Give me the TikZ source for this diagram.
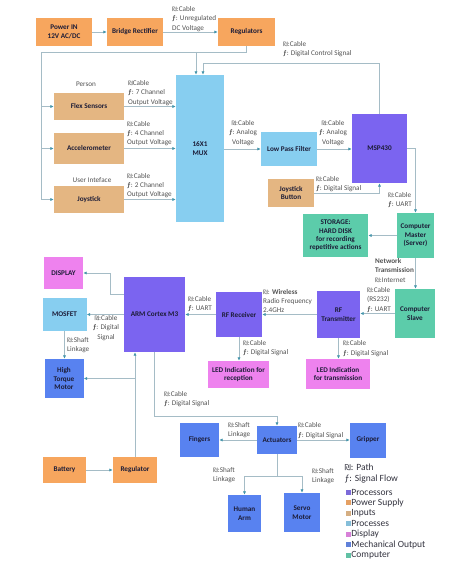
\documentclass[tikz,border=0pt]{standalone}
\usepackage{fontspec}
\setmainfont{Carlito}
\newfontfamily\pathfont{DejaVu Sans}
\usetikzlibrary{arrows.meta}

\definecolor{powerCol}{RGB}{247,166,94}
\definecolor{inputCol}{RGB}{228,182,130}
\definecolor{procCol}{RGB}{135,206,240}
\definecolor{cpuCol}{RGB}{123,100,240}
\definecolor{dispCol}{RGB}{238,130,238}
\definecolor{mechCol}{RGB}{88,130,240}
\definecolor{compCol}{RGB}{92,204,170}
\definecolor{lineCol}{RGB}{165,188,198}
\definecolor{tipCol}{RGB}{70,150,172}
\definecolor{boxText}{RGB}{28,28,55}
\definecolor{labelCol}{RGB}{82,82,82}
\definecolor{legCol}{RGB}{50,50,62}

\newcommand{\pth}{{\pathfont\fontsize{6}{9}\selectfont ₪}}
\newcommand{\flw}{\textbf{ƒ}}

\begin{document}
\begin{tikzpicture}[x=1pt,y=-1pt,
    blockNode/.style={inner sep=1pt, align=center, text=boxText, font=\bfseries\fontsize{7.2}{8.4}\selectfont},
    powerNode/.style={blockNode, fill=powerCol},
    inputNode/.style={blockNode, fill=inputCol},
    procNode/.style={blockNode, fill=procCol},
    cpuNode/.style={blockNode, fill=cpuCol},
    dispNode/.style={blockNode, fill=dispCol},
    mechNode/.style={blockNode, fill=mechCol},
    compNode/.style={blockNode, fill=compCol},
    pathLabel/.style={inner sep=0pt, anchor=west, align=left, text=labelCol, font=\fontsize{7.2}{9.3}\selectfont},
    pathLabelC/.style={pathLabel, anchor=center, align=center},
    flowLine/.style={draw=lineCol, line width=0.8pt, -{Latex[length=3.5pt,width=3.2pt,color=tipCol]}},
    legKey/.style={minimum size=5pt, inner sep=0pt},
    legText/.style={inner sep=0.5pt, text=legCol, font=\fontsize{9.5}{10.5}\selectfont},
  ]
    \useasboundingbox (0,0) rectangle (474,561);

    % power in
    \node[powerNode, minimum width=56, minimum height=28] (pwrIn) at (64,32) {Power IN\\12V AC/DC};
    \node[powerNode, minimum width=56, minimum height=28] (bridge) at (135,32) {Bridge Rectifier};
    \node[powerNode, minimum width=57, minimum height=28] (regs) at (246.5,32) {Regulators};

    % inputs
    \node[pathLabelC] (personTxt) at (86,84) {Person};
    \node[inputNode, minimum width=70, minimum height=27] (flex) at (89,106.5) {Flex Sensors};
    \node[inputNode, minimum width=70, minimum height=31] (accel) at (89,148.5) {Accelerometer};
    \node[pathLabelC] (uiTxt) at (92,180) {User Inteface};
    \node[inputNode, minimum width=70, minimum height=27] (joy) at (89,199.5) {Joystick};
    \node[inputNode, minimum width=46, minimum height=28] (joyBtn) at (291,193) {Joystick\\Button};

    % processing
    \node[procNode, minimum width=48, minimum height=147] (mux) at (200,148.5) {16X1\\MUX};
    \node[procNode, minimum width=56, minimum height=34] (lpf) at (289,149) {Low Pass Filter};
    \node[cpuNode, minimum width=55, minimum height=69] (msp) at (379.5,148.5) {MSP430};

    % computers
    \node[compNode, minimum width=37, minimum height=45] (master) at (415.5,235.5) {Computer\\Master\\(Server)};
    \node[compNode, minimum width=65, minimum height=43] (storage) at (335.5,235.5) {STORAGE:\\HARD DISK\\for recording\\repetitive actions};
    \node[compNode, minimum width=40, minimum height=49] (slave) at (415,313.5) {Computer\\Slave};

    % radio link and arm
    \node[cpuNode, minimum width=43, minimum height=47] (rfTx) at (338.5,314.5) {RF\\Transmitter};
    \node[cpuNode, minimum width=46, minimum height=45] (rfRx) at (239,314.5) {RF Receiver};
    \node[cpuNode, minimum width=61, minimum height=75] (arm) at (154.5,314.5) {ARM Cortex M3};
    \node[dispNode, minimum width=39, minimum height=32] (display) at (63.5,273) {DISPLAY};
    \node[procNode, minimum width=44, minimum height=33] (mosfet) at (64.5,314.5) {MOSFET};
    \node[mechNode, minimum width=39, minimum height=39] (motor) at (64,378.5) {High\\Torque\\Motor};
    \node[dispNode, minimum width=61, minimum height=27] (ledRx) at (238.5,374.5) {LED Indication for\\reception};
    \node[dispNode, minimum width=64, minimum height=30] (ledTx) at (338,374) {LED Indication\\for transmission};

    % mechanics
    \node[mechNode, minimum width=40, minimum height=28] (actuators) at (277,440) {Actuators};
    \node[mechNode, minimum width=39, minimum height=34] (fingers) at (199.5,440) {Fingers};
    \node[mechNode, minimum width=36, minimum height=35] (gripper) at (368,440) {Gripper};
    \node[mechNode, minimum width=33, minimum height=37] (humanArm) at (244.5,513.5) {Human\\Arm};
    \node[mechNode, minimum width=36, minimum height=39] (servo) at (302,512.5) {Servo\\Motor};
    \node[powerNode, minimum width=43, minimum height=26] (battery) at (64.5,470) {Battery};
    \node[powerNode, minimum width=44, minimum height=26] (regulator) at (135,470) {Regulator};

    % power distribution
    \coordinate (busL) at (41,52);
    \coordinate (ctlY) at (0,63);
    \coordinate (muxPwr) at ([xshift=-4pt]mux.north);
    \coordinate (muxCtl) at ([xshift=3pt]mux.north);
    \draw[flowLine] (pwrIn) -- (bridge);
    \draw[flowLine] (bridge) -- (regs);
    \node[pathLabel] (lblUnreg) at (172,19) {\pth :Cable\\\flw: Unregulated\\DC Voltage};
    \draw[flowLine] (regs.south) |- (busL) |- (joy.west);
    \draw[flowLine] (busL |- flex.west) -- (flex.west);
    \draw[flowLine] (busL |- accel.west) -- (accel.west);
    \draw[flowLine] (muxPwr |- busL) -- (muxPwr);
    \draw[flowLine] (msp.north) -- (msp.north |- ctlY) -| (muxCtl);
    \node[pathLabel] (lblCtl) at (283,49) {\pth:Cable\\\flw: Digital Control Signal};

    % sensors to mux
    \draw[flowLine] (flex.east) -- (flex.east -| mux.west);
    \node[pathLabel] (lblFlex) at (128,93) {\pth Cable\\\flw: 7 Channel\\Output Voltage};
    \draw[flowLine] (accel.east) -- (accel.east -| mux.west);
    \node[pathLabel] (lblAccel) at (127,133.5) {\pth:Cable\\\flw: 4 Channel\\Output Voltage};
    \draw[flowLine] (joy.east) -- (joy.east -| mux.west);
    \node[pathLabel] (lblJoy) at (127,185.5) {\pth:Cable\\\flw: 2 Channel\\Output Voltage};

    % mux to msp430
    \draw[flowLine] (mux.east |- lpf.west) -- (lpf.west);
    \node[pathLabelC] (lblMux) at (243,133) {\pth:Cable\\\flw: Analog\\Voltage};
    \draw[flowLine] (lpf.east) -- (lpf.east -| msp.west);
    \node[pathLabelC] (lblLpf) at (333,133) {\pth:Cable\\\flw: Analog\\Voltage};
    \draw[flowLine] (joyBtn.east) -| (msp.south);
    \node[pathLabel] (lblBtn) at (316,184) {\pth:Cable\\\flw: Digital Signal};

    % computers
    \draw[flowLine] (msp.east) -| (master.north);
    \node[pathLabel] (lblUart) at (388,200) {\pth:Cable\\\flw: UART};
    \draw[flowLine] (master.west) -- (storage.east);
    \draw[flowLine] (master.south) -- (master.south |- slave.north);
    \node[pathLabel] (lblNet) at (375,270.5) {\textbf{Network}\\\textbf{Transmission}\\\pth:Internet};
    \draw[flowLine] (slave.west) -- (slave.west -| rfTx.east);
    \node[pathLabel] (lblRs) at (367,300) {\pth:Cable\\(RS232)\\\flw: UART};

    % radio link
    \draw[flowLine] (rfTx.west) -- (rfTx.west -| rfRx.east);
    \node[pathLabel] (lblRadio) at (263,301) {\pth: \textbf{Wireless}\\Radio Frequency\\2.4GHz};
    \draw[flowLine] (rfRx.west) -- (rfRx.west -| arm.east);
    \node[pathLabel] (lblRx) at (188,304) {\pth:Cable\\\flw: UART};
    \draw[flowLine] (rfRx.south) -- (rfRx.south |- ledRx.north);
    \node[pathLabel] (lblLedRx) at (243,348) {\pth:Cable\\\flw: Digital Signal};
    \draw[flowLine] (rfTx.south) -- (rfTx.south |- ledTx.north);
    \node[pathLabel] (lblLedTx) at (343,348.5) {\pth:Cable\\\flw: Digital Signal};

    % arm outputs
    \coordinate (dispOut) at ([yshift=20pt]arm.west);
    \draw[flowLine] (dispOut) -- ++(-13,0) |- (display.east);
    \draw[flowLine] (arm.west) -- (arm.west -| mosfet.east);
    \node[pathLabelC] (lblMos) at (106,328) {\pth:Cable\\\flw: Digital\\Signal};
    \draw[flowLine] (mosfet.south) -- (mosfet.south |- motor.north);
    \node[pathLabel] (lblShaft) at (67,345) {\pth:Shaft\\Linkage};
    \draw[flowLine] (arm.south) -- ++(0,64) -| (actuators.north);
    \node[pathLabel] (lblAct) at (164,399) {\pth:Cable\\\flw: Digital Signal};

    % battery supply
    \draw[flowLine] (battery) -- (regulator);
    \draw[flowLine] (regulator.north) -- (regulator.north |- arm.south);
    \draw[flowLine] (regulator.north |- motor.east) -- (motor.east);

    % actuators
    \draw[flowLine] (actuators.west) -- (fingers.east);
    \node[pathLabel] (lblFing) at (228,430) {\pth:Shaft\\Linkage};
    \draw[flowLine] (actuators.east) -- (gripper.west);
    \node[pathLabel] (lblGrip) at (298,430.5) {\pth:Cable\\\flw: Digital Signal};
    \draw[flowLine] (actuators.south) -- ++(0,22) -| (humanArm.north);
    \draw[flowLine] (actuators.south) -- ++(0,22) -| (servo.north);
    \node[pathLabel] (lblHum) at (213,475) {\pth:Shaft\\Linkage};
    \node[pathLabel] (lblServo) at (312,476) {\pth:Shaft\\Linkage};

    % legend
    \node[legText, anchor=west] (legPath) at (344,467) {{\pathfont\fontsize{8}{10}\selectfont ₪}: Path};
    \node[legText, anchor=west] (legFlow) at (344,479) {ƒ: Signal Flow};
    \node[legKey, fill=cpuCol!80!gray, label={[legText]right:Processors}] (legCpu) at (348,492) {};
    \node[legKey, fill=powerCol!85!gray, label={[legText]right:Power Supply}] (legPow) at (348,502.5) {};
    \node[legKey, fill=inputCol!85!gray, label={[legText]right:Inputs}] (legIn) at (348,513) {};
    \node[legKey, fill=procCol!80!gray, label={[legText]right:Processes}] (legProc) at (348,523.5) {};
    \node[legKey, fill=dispCol!80!gray, label={[legText]right:Display}] (legDisp) at (348,534) {};
    \node[legKey, fill=mechCol!80!gray, label={[legText]right:Mechanical Output}] (legMech) at (348,544.5) {};
    \node[legKey, fill=compCol!85!gray, label={[legText]right:Computer}] (legComp) at (348,555) {};
\end{tikzpicture}
\end{document}
